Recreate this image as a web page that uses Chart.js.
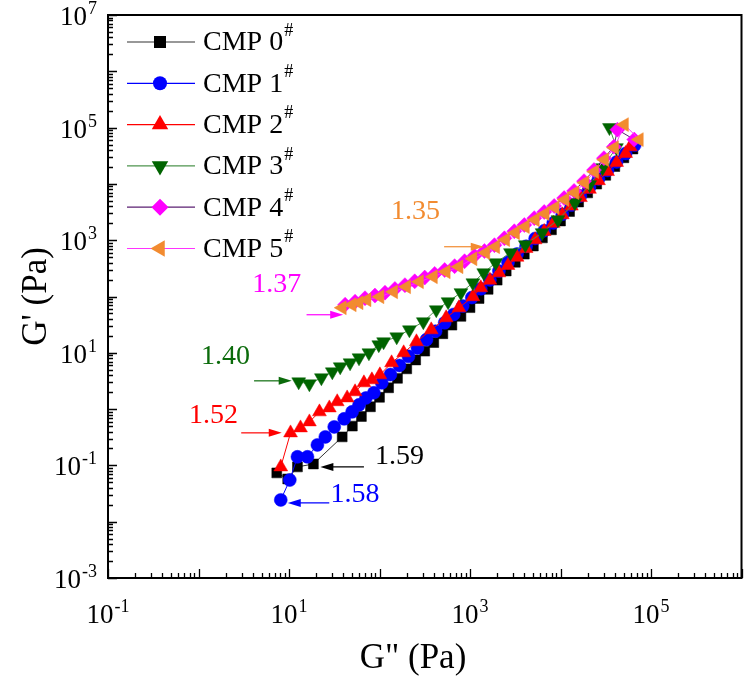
<!DOCTYPE html>
<html><head><meta charset="utf-8">
<script src="https://cdn.jsdelivr.net/npm/chart.js@4.4.1/dist/chart.umd.min.js"></script>
<style>html,body{margin:0;padding:0;background:#fff;}</style>
</head><body>
<canvas id="c" width="750" height="681"></canvas>
<script>
// ---------- data ----------
const seriesNames = ['CMP 0', 'CMP 1', 'CMP 2', 'CMP 3', 'CMP 4', 'CMP 5'];

const cmp0X = [7.33, 9.68, 12.4, 18.6, 38.7, 50.1, 63.1, 79.4, 100, 126, 158, 200, 251, 316, 398, 501, 631, 794, 1000, 1259, 1585, 1995, 2512, 3162, 3981, 5012, 6310, 7943, 10000, 12589, 15849, 19953, 25119, 31623, 39811, 50119, 63096];
const cmp0Y = [0.0736, 0.0575, 0.094, 0.106, 0.321, 0.499, 0.740, 1.10, 1.62, 2.39, 3.52, 5.19, 7.46, 10.7, 15.2, 21.8, 31.0, 44.4, 63.4, 92.3, 134, 195, 284, 406, 566, 789, 1099, 1531, 2193, 3236, 4775, 6918, 9908, 14191, 20324, 29107, 41687];

const cmp1X = [8.11, 10.2, 12.4, 16.0, 20.6, 25.2, 31.6, 40.7, 49.8, 59.4, 70.8, 86.7, 106, 132, 166, 209, 263, 331, 417, 525, 661, 832, 1047, 1318, 1660, 2089, 2630, 3311, 4169, 5248, 6607, 8318, 10471, 13183, 16596, 20893, 26303, 33113, 41687, 52481, 66069];
const cmp1Y = [0.0244, 0.055, 0.142, 0.142, 0.231, 0.321, 0.483, 0.671, 0.893, 1.19, 1.58, 1.95, 2.93, 4.10, 5.96, 8.65, 12.2, 17.2, 24.2, 34.1, 48.0, 67.6, 95.7, 137, 197, 283, 404, 568, 780, 1072, 1472, 2023, 2891, 4207, 6124, 8690, 12274, 17338, 24491, 34594, 48865];

const cmp2X = [8.11, 10.4, 13.4, 16.8, 21.7, 27.9, 34.1, 43.9, 53.7, 67.3, 82.4, 101, 136, 185, 256, 373, 545, 755, 1076, 1315, 1660, 2089, 2630, 3311, 4169, 5248, 6607, 8318, 10471, 13183, 16596, 20893, 26303, 33113, 41687, 52481, 58884];
const cmp2Y = [0.094, 0.378, 0.464, 0.593, 0.893, 1.05, 1.35, 1.58, 2.03, 2.93, 3.31, 4.06, 6.64, 10.0, 15.7, 25.6, 41.9, 63.1, 99.1, 143, 195, 263, 356, 498, 711, 1016, 1426, 1995, 2831, 4036, 5715, 8017, 11402, 16558, 24044, 34754, 45709];

const cmp3X = [12.8, 16.8, 22.8, 30.1, 36.8, 47.3, 59.4, 76.4, 98.2, 111, 155, 214, 305, 424, 573, 794, 1076, 1419, 1919, 2799, 4083, 6266, 9376, 14388, 20989, 29174, 41495, 34754];
const cmp3Y = [3.05, 2.81, 3.60, 4.59, 5.64, 6.64, 8.15, 10.0, 13.9, 15.7, 19.2, 25.6, 35.6, 58.1, 80.7, 117, 175, 264, 398, 600, 832, 1358, 2312, 4645, 9705, 19454, 44055, 100000];

const cmp4X = [41.7, 53.7, 69.2, 89.1, 115, 148, 191, 245, 316, 407, 525, 676, 871, 1122, 1445, 1862, 2399, 3090, 3981, 5129, 6607, 8511, 10965, 14125, 18197, 23442, 30200, 38905, 42560, 65313];
const cmp4Y = [71.6, 80.9, 93.1, 104, 117, 136, 159, 186, 217, 252, 295, 346, 423, 531, 641, 815, 1081, 1442, 1858, 2466, 3170, 4055, 5598, 7499, 11194, 17579, 28642, 45920, 92045, 61235];

const cmp5X = [38.7, 49.8, 59.4, 72.6, 101, 143, 199, 276, 393, 545, 755, 1076, 1493, 1919, 2472, 3177, 4083, 5260, 6761, 8710, 11194, 14388, 18535, 23823, 30690, 39446, 50816, 74131];
const cmp5Y = [63.1, 71.3, 77.4, 87.5, 99.1, 121, 149, 183, 224, 275, 338, 469, 600, 766, 1021, 1358, 1738, 2312, 2958, 3784, 5248, 6982, 10520, 16520, 26977, 44055, 112980, 61235];

const xTickExponents = [-1, 1, 3, 5];
const yTickExponents = [-3, -1, 1, 3, 5, 7];
const slopeLabels = ['1.59', '1.58', '1.52', '1.40', '1.37', '1.35'];

// ---------- styles / layout ----------
const FONT = '"Liberation Serif", "Times New Roman", serif';
const seriesStyle = [
  {x: cmp0X, y: cmp0Y, marker: '#000000', line: '#333333', style: 'rect', rot: 0, r: 7, lr: 8.5},
  {x: cmp1X, y: cmp1Y, marker: '#0000FF', line: '#0000FF', style: 'circle', rot: 0, r: 6.5, lr: 7},
  {x: cmp2X, y: cmp2Y, marker: '#FF0000', line: '#FF0000', style: 'triangle', rot: 0, r: 8, lr: 9.5},
  {x: cmp3X, y: cmp3Y, marker: '#006400', line: '#4E944E', style: 'triangle', rot: 180, r: 8, lr: 9.5},
  {x: cmp4X, y: cmp4Y, marker: '#FF00FF', line: '#5B1F72', style: 'rectRot', rot: 0, r: 7.5, lr: 8.5},
  {x: cmp5X, y: cmp5Y, marker: '#F28B30', line: '#FF33FF', style: 'triangle', rot: -90, r: 8, lr: 9.5}
];
// annotation placement in log10 data units (text centre, arrow start -> arrow end)
const annotations = [
  {text: slopeLabels[0], color: '#000000', tx: 2.222, ty: -0.849, ax1: 1.828, ax2: 1.347, ay: -1.027},
  {text: slopeLabels[1], color: '#0000FF', tx: 1.730, ty: -1.524, ax1: 1.445, ax2: 0.986, ay: -1.667},
  {text: slopeLabels[2], color: '#FF0000', tx: 0.165, ty: -0.120, ax1: 0.472, ax2: 0.920, ay: -0.422},
  {text: slopeLabels[3], color: '#0B6B0B', tx: 0.299, ty: 0.929, ax1: 0.614, ax2: 1.030, ay: 0.502},
  {text: slopeLabels[4], color: '#FF00FF', tx: 0.865, ty: 2.209, ax1: 1.194, ax2: 1.599, ay: 1.676},
  {text: slopeLabels[5], color: '#F28B30', tx: 2.397, ty: 3.507, ax1: 2.714, ax2: 3.152, ay: 2.884}
];

function drawMarker(ctx, style, x, y, r, rot) {
  ctx.beginPath();
  if (style === 'circle') {
    ctx.arc(x, y, r, 0, Math.PI * 2);
  } else if (style === 'rect') {
    const s = r * Math.SQRT1_2;
    ctx.rect(x - s, y - s, 2 * s, 2 * s);
  } else if (style === 'rectRot') {
    ctx.moveTo(x - r, y); ctx.lineTo(x, y - r); ctx.lineTo(x + r, y); ctx.lineTo(x, y + r); ctx.closePath();
  } else if (style === 'triangle') {
    let a = rot * Math.PI / 180;
    for (let k = 0; k < 3; k++) {
      const px = x + Math.sin(a) * r, py = y - Math.cos(a) * r;
      if (k === 0) ctx.moveTo(px, py); else ctx.lineTo(px, py);
      a += Math.PI * 2 / 3;
    }
    ctx.closePath();
  }
  ctx.fill();
}

function drawPow(ctx, exp, x, y, align) {
  const base = '10', sup = String(exp);
  ctx.font = '27px ' + FONT;
  const wb = ctx.measureText(base).width;
  ctx.font = '18px ' + FONT;
  const we = ctx.measureText(sup).width;
  const total = wb + we + 1;
  let sx = align === 'center' ? x - total / 2 : x - total;
  ctx.textAlign = 'left';
  ctx.textBaseline = 'alphabetic';
  ctx.font = '27px ' + FONT;
  ctx.fillText(base, sx, y);
  ctx.font = '18px ' + FONT;
  ctx.fillText(sup, sx + wb + 1, y - 11);
}

const framePlugin = {
  id: 'frame',
  afterDraw(chart) {
    const ctx = chart.ctx;
    const {left, right, top, bottom} = chart.chartArea;
    const xs = chart.scales.x, ys = chart.scales.y;
    ctx.save();
    ctx.fillStyle = '#000';
    ctx.strokeStyle = '#000';
    // frame
    ctx.lineWidth = 2;
    ctx.strokeRect(left, top, right - left, bottom - top);
    // ticks
    ctx.lineWidth = 1.3;
    ctx.beginPath();
    for (let e = -1; e <= 6; e++) {
      for (let m = 1; m <= 9; m++) {
        const v = m * Math.pow(10, e);
        if (v > 1e6 * 1.0001) break;
        const px = Math.round(xs.getPixelForValue(v)) + 0.5;
        const len = m === 1 ? 9 : 5;
        ctx.moveTo(px, bottom); ctx.lineTo(px, bottom - len);
      }
    }
    for (let e = -3; e <= 7; e++) {
      for (let m = 1; m <= 9; m++) {
        const v = m * Math.pow(10, e);
        if (v > 1e7 * 1.0001) break;
        const py = Math.round(ys.getPixelForValue(v)) + 0.5;
        const len = m === 1 ? 9 : 5;
        ctx.moveTo(left, py); ctx.lineTo(left + len, py);
      }
    }
    ctx.stroke();
    // tick labels
    xTickExponents.forEach(e => drawPow(ctx, e, xs.getPixelForValue(Math.pow(10, e)), bottom + 45, 'center'));
    yTickExponents.forEach(e => drawPow(ctx, e, left - 11, ys.getPixelForValue(Math.pow(10, e)) + 10, 'right'));
    // axis titles
    ctx.font = '35px ' + FONT;
    ctx.textAlign = 'center';
    ctx.textBaseline = 'alphabetic';
    ctx.fillText('G" (Pa)', 413, 668);
    ctx.save();
    ctx.translate(46, (top + bottom) / 2);
    ctx.rotate(-Math.PI / 2);
    ctx.fillText("G' (Pa)", 0, 0);
    ctx.restore();
    // legend
    const lx0 = left + 19, lx1 = left + 87, lm = left + 52, tx = left + 95;
    seriesStyle.forEach((s, i) => {
      const yy = top + 27 + i * 41.3;
      ctx.strokeStyle = s.line; ctx.lineWidth = 1.2;
      ctx.beginPath(); ctx.moveTo(lx0, yy); ctx.lineTo(lx1, yy); ctx.stroke();
      ctx.fillStyle = s.marker;
      drawMarker(ctx, s.style, lm, yy, s.lr, s.rot);
      ctx.fillStyle = '#000';
      ctx.font = '28px ' + FONT; ctx.textAlign = 'left'; ctx.textBaseline = 'middle';
      ctx.fillText(seriesNames[i], tx, yy + 1);
      const w = ctx.measureText(seriesNames[i]).width;
      ctx.font = '18px ' + FONT;
      ctx.fillText('#', tx + w + 1, yy - 11);
    });
    // slope annotations
    annotations.forEach(a => {
      const txp = xs.getPixelForValue(Math.pow(10, a.tx)), typ = ys.getPixelForValue(Math.pow(10, a.ty));
      ctx.fillStyle = a.color; ctx.strokeStyle = a.color;
      ctx.font = '28px ' + FONT; ctx.textAlign = 'center'; ctx.textBaseline = 'middle';
      ctx.fillText(a.text, txp, typ);
      const x1 = xs.getPixelForValue(Math.pow(10, a.ax1)), x2 = xs.getPixelForValue(Math.pow(10, a.ax2));
      const yy = ys.getPixelForValue(Math.pow(10, a.ay));
      const dir = x2 > x1 ? 1 : -1;
      ctx.lineWidth = 1.2;
      ctx.beginPath(); ctx.moveTo(x1, yy); ctx.lineTo(x2 - dir * 10, yy); ctx.stroke();
      ctx.beginPath(); ctx.moveTo(x2, yy); ctx.lineTo(x2 - dir * 13, yy - 4); ctx.lineTo(x2 - dir * 13, yy + 4); ctx.closePath(); ctx.fill();
    });
    ctx.restore();
  }
};

const datasets = seriesStyle.map((s, i) => ({
  label: seriesNames[i],
  data: s.x.map((v, k) => ({x: v, y: s.y[k]})),
  showLine: true,
  borderColor: s.line,
  borderWidth: 1,
  pointStyle: s.style,
  rotation: s.rot,
  pointRadius: s.r,
  pointHoverRadius: s.r,
  pointBackgroundColor: s.marker,
  pointBorderColor: s.marker,
  pointBorderWidth: 0.5,
  order: 6 - i
}));

new Chart(document.getElementById('c'), {
  type: 'scatter',
  data: {datasets},
  options: {
    responsive: false,
    animation: false,
    layout: {padding: {left: 108, right: 2, top: 15, bottom: 103}},
    plugins: {legend: {display: false}, tooltip: {enabled: false}},
    scales: {
      x: {type: 'logarithmic', min: 0.1, max: 1e6, display: false},
      y: {type: 'logarithmic', min: 1e-3, max: 1e7, display: false}
    }
  },
  plugins: [framePlugin]
});
</script>
</body></html>
